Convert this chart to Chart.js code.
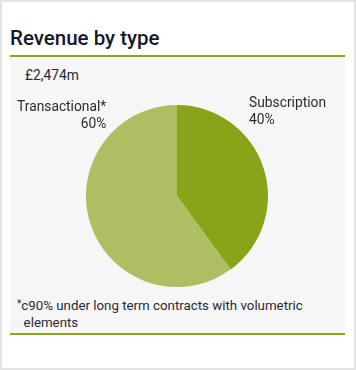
<!DOCTYPE html>
<html><head><meta charset="utf-8">
<script src="https://cdn.jsdelivr.net/npm/chart.js@4"></script>
<style>
html,body{margin:0;padding:0;width:356px;height:370px;background:#fff;overflow:hidden;font-family:Roboto,"Open Sans",sans-serif;}
#frame{position:absolute;left:0;top:0;width:352px;height:366px;border:2px solid #e4e4e4;background:#fff;}
#title{position:absolute;left:10px;top:26px;font-size:20.5px;font-weight:500;color:#14192b;letter-spacing:0px;}
#topline{position:absolute;left:10px;top:55px;width:335px;height:2px;background:#8aa61b;}
#panel{position:absolute;left:10px;top:57px;width:335px;height:276px;background:#f6f6f6;}
#botline{position:absolute;left:10px;top:333px;width:335px;height:2px;background:#8aa61b;}
.t{position:absolute;font-size:13.8px;color:#2a2a35;line-height:17px;white-space:nowrap;}
#c{position:absolute;left:86px;top:105px;}
</style></head><body>
<div id="frame"></div>
<div id="title">Revenue by type</div>
<div id="topline"></div>
<div id="panel"></div>
<div id="botline"></div>
<canvas id="c" width="182" height="182"></canvas>
<div class="t" id="total" style="left:25px;top:67px;"></div>
<div class="t" id="l0" style="left:17px;top:98px;text-align:right;"></div>
<div class="t" id="l1" style="left:249px;top:94px;"></div>
<div class="t" style="left:17px;top:295px;font-size:13.3px;line-height:17px;"><span style="font-size:10px;vertical-align:3px;">*</span>c90% under long term contracts with volumetric<br>&nbsp;&nbsp;elements</div>
<script>
const categories = ["Subscription", "Transactional*"];
const shares = [40, 60];
const total = "£2,474m";
const colors = ["#88a519", "#adbf62"];

document.getElementById('total').textContent = total;
document.getElementById('l0').innerHTML = categories[1] + "<br>" + shares[1] + "%";
document.getElementById('l1').innerHTML = categories[0] + "<br>" + shares[0] + "%";

new Chart(document.getElementById('c'), {
  type: 'pie',
  data: { labels: categories, datasets: [{ data: shares, backgroundColor: colors, borderWidth: 0 }] },
  options: {
    responsive: false, animation: false,
    plugins: { legend: { display: false }, tooltip: { enabled: false } },
    layout: { padding: 0 }
  }
});
</script>
</body></html>
